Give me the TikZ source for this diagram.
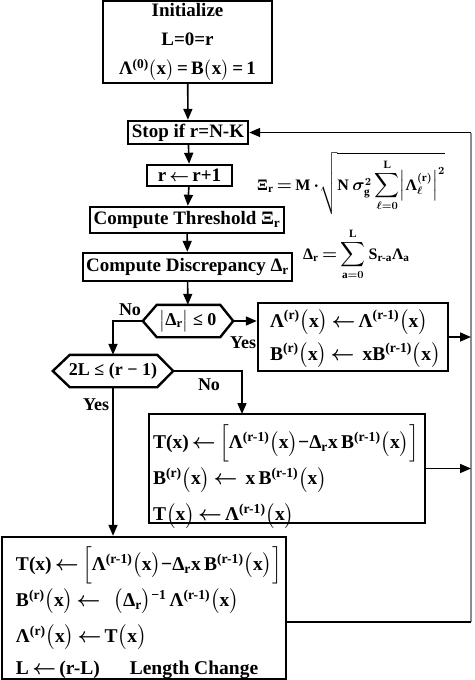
\documentclass[tikz,border=0pt]{standalone}
\usepackage{amsmath}
\usepackage{fontspec}
\setmainfont{Liberation Serif}
\usetikzlibrary{arrows.meta,calc}
\newcommand\pa[1]{$\bigl(\text{#1}\bigr)$}
\newcommand\sps[1]{\textsuperscript{#1}}
\newcommand\sbs[1]{\textsubscript{#1}}
\newcommand\la{\,$\leftarrow$\,}
\tikzset{
  box/.style={draw, line width=2.4pt, inner sep=0pt},
  txt/.style={inner sep=0pt, font=\bfseries\boldmath\fontsize{18}{22}\selectfont},
  ctxt/.style={inner sep=0pt, font=\bfseries\boldmath\fontsize{19}{22}\selectfont},
  ftxt/.style={inner sep=0pt, font=\bfseries\boldmath\fontsize{16}{20}\selectfont},
  multi/.style={inner sep=0pt, align=left, font=\bfseries\boldmath\fontsize{19.5}{36}\selectfont},
  hexl/.style={line width=2.4pt, line join=miter},
  arr/.style={line width=1.6pt, -{Triangle[length=11pt,width=9pt]}},
  ln/.style={line width=1.6pt},
  side/.style={line width=2.6pt, draw=black!45},
}
\begin{document}
\begin{tikzpicture}[x=1pt,y=-1pt]
\useasboundingbox (0,0) rectangle (474,680);
% main column
\node[box, ctxt, minimum width=169, minimum height=82, align=center,
      font=\bfseries\boldmath\fontsize{19}{29}\selectfont] (init) at (187.5,42)
  {Initialize\\L=0=r\\Λ\sps{(0)}\pa{x}\,=\,B\pa{x}\,=\,1};
\node[box, ctxt, minimum width=120, minimum height=23] (stop) at (188,132.5) {Stop if r=N-K};
\node[box, ctxt, minimum width=85, minimum height=21] (rinc) at (189.5,175.5) {r\la r+1};
\node[box, ctxt, minimum width=194, minimum height=26] (thr) at (187,220) {Compute Threshold Ξ\sbs{r}};
\node[box, ctxt, minimum width=209, minimum height=28] (disc) at (187.5,267) {Compute Discrepancy Δ\sbs{r}};
% hexagon 1
\node[txt, minimum width=90, minimum height=32] (hex1) at (188,321) {$\bigl|$Δ\sbs{r}$\bigr|$ ≤ 0};
\draw[hexl] (hex1.west) -- ($(hex1.north west)+(14,0)$) -- ($(hex1.north east)+(-13,0)$)
  -- (hex1.east) -- ($(hex1.south east)+(-13,0)$) -- ($(hex1.south west)+(14,0)$) -- cycle;
% hexagon 2
\node[txt, minimum width=120, minimum height=32] (hex2) at (113,371) {2L ≤ (r − 1)};
\draw[hexl] (hex2.west) -- ($(hex2.north west)+(17,0)$) -- ($(hex2.north east)+(-16,0)$)
  -- (hex2.east) -- ($(hex2.south east)+(-16,0)$) -- ($(hex2.south west)+(17,0)$) -- cycle;
% box 1
\node[box, minimum width=190, minimum height=68] (box1) at (353,337) {};
\node[multi, anchor=west, font=\bfseries\boldmath\fontsize{19.5}{33}\selectfont] (box1t) at ($(box1.west)+(13,1.5)$)
  {Λ\sps{(r)}\pa{x}\la Λ\sps{(r-1)}\pa{x}\\
   B\sps{(r)}\pa{x}\la\ xB\sps{(r-1)}\pa{x}};
% box 2
\node[box, minimum width=276, minimum height=109] (box2) at (287,468.5) {};
\node[multi, anchor=west] (box2t) at ($(box2.west)+(5,8)$)
  {T(x)\la$\Bigl[$Λ\sps{(r-1)}\pa{x}−Δ\sbs{r}x\,B\sps{(r-1)}\pa{x}$\Bigr]$\\
   B\sps{(r)}\pa{x}\la\ x\,B\sps{(r-1)}\pa{x}\\
   T\pa{x}\la Λ\sps{(r-1)}\pa{x}};
% box 3
\node[box, minimum width=284, minimum height=142] (box3) at (144,608) {};
\node[multi, anchor=west] (box3t) at ($(box3.west)+(15,5)$)
  {T(x)\la$\Bigl[$Λ\sps{(r-1)}\pa{x}−Δ\sbs{r}x\,B\sps{(r-1)}\pa{x}$\Bigr]$\\
   B\sps{(r)}\pa{x}\la\ \ $\bigl($Δ\sbs{r}$\bigr)$\sps{−1}\,Λ\sps{(r-1)}\pa{x}\\
   Λ\sps{(r)}\pa{x}\la T\pa{x}\\[-4pt]
   L\la(r-L)\hspace{30pt}Length Change};
% formulas
\node[ftxt, anchor=base west] (xi) at (257,190)
  {$\displaystyle\text{Ξ}_{\text{r}}\,{=}\,\text{M}\,{\cdot}\sqrt{\text{N}\,\sigma_{\text{g}}^{2}\sum_{\ell=0}^{\text{L}}\Bigl|\text{Λ}_{\ell}^{(\text{r})}\Bigr|^{2}}$};
\node[ftxt, anchor=base west] (dl) at (303,259)
  {$\displaystyle\text{Δ}_{\text{r}}\,{=}\sum_{\text{a}=0}^{\text{L}}\text{S}_{\text{r-a}}\text{Λ}_{\text{a}}$};
% labels
\node[txt] (no1) at (130,310) {No};
\node[txt] (yes1) at (243,343) {Yes};
\node[txt] (no2) at (209,385) {No};
\node[txt] (yes2) at (96,405) {Yes};
% coordinates
\coordinate (rt) at (471,132.5);
\coordinate (rb) at (471,622);
\coordinate (b2in) at (242,414);
% connectors
\draw[arr] (init) -- (stop);
\draw[arr] (stop) -- (rinc);
\draw[arr] (rinc) -- (thr);
\draw[arr] (thr) -- (disc);
\draw[arr] (disc) -- (hex1);
\draw[arr] (hex1.east) -- (hex1.east -| box1.west);
\draw[arr] (hex1.west) -| (hex2.north);
\draw[arr] (hex2.east) -| (b2in);
\draw[arr] (hex2.south) -- (hex2.south |- box3.north);
\draw[side] (rb) -- (rt);
\draw[arr] (box1.east) -- (box1.east -| rt);
\draw[arr] (box2.east) -- (box2.east -| rt);
\draw[ln] (rb -| box3.east) -- (rb);
\draw[arr] (rt) -- (stop.east);
\end{tikzpicture}
\end{document}
